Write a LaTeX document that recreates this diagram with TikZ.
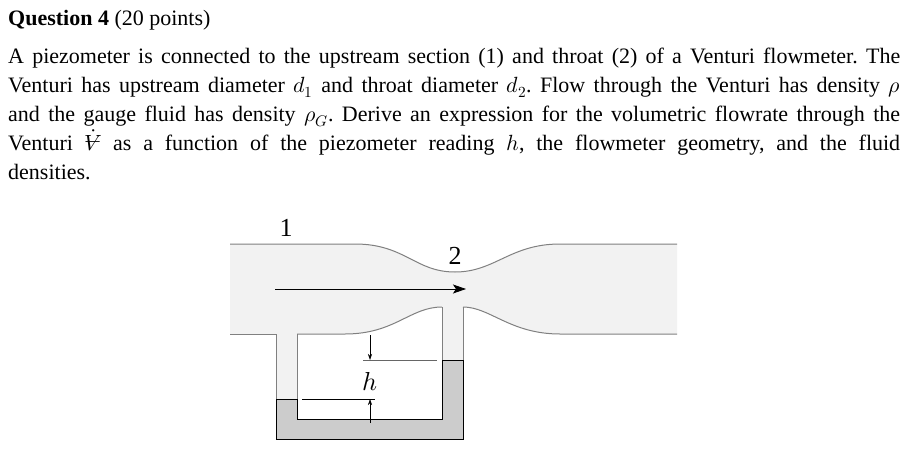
\documentclass[tikz,border=0pt]{standalone}
\usepackage{fontspec}
\setmainfont{Liberation Serif}
\usepackage{unicode-math}
\setmathfont{Latin Modern Math}
\usetikzlibrary{arrows.meta}
\begin{document}
\frenchspacing
\begin{tikzpicture}[x=1pt,y=-1pt,
  txt/.style={anchor=base west,inner sep=0pt,font=\fontsize{22}{26}\selectfont},
  pipeline/.style={draw=black!50,line width=1pt},
  tube/.style={draw=black,line width=1pt},
  lab/.style={inner sep=0pt,font=\fontsize{26}{30}\selectfont}]
\useasboundingbox (0,0) rectangle (918,450);
% text
\node[txt] (t0) at (8,25) {\textbf{Question 4} (20 points)};
\node[txt] (t1) at (8,63) {\makebox[892pt][s]{A piezometer is connected to the upstream section (1) and throat (2) of a Venturi flowmeter. The}};
\node[txt] (t2) at (8,92) {\makebox[892pt][s]{Venturi has upstream diameter $d_1$ and throat diameter $d_2$. Flow through the Venturi has density $\rho$}};
\node[txt] (t3) at (8,121) {\makebox[892pt][s]{and the gauge fluid has density $\rho_G$. Derive an expression for the volumetric flowrate through the}};
\node[txt] (t4) at (8,150) {\makebox[892pt][s]{Venturi \rlap{$\dot{V}$}\hbox to 0.75em{\hss\raisebox{0.25ex}{$-$}\hss} as a function of the piezometer reading $h$, the flowmeter geometry, and the fluid}};
\node[txt] (t5) at (8,179) {densities.};
% fills
\fill[black!5] (230,244) -- (355,244) .. controls (405,244) and (415,272) .. (455,272)
  .. controls (495,272) and (510,244) .. (560,244) -- (677,244) -- (677,334) -- (560,334)
  .. controls (510,334) and (490,307) .. (463,307) -- (463,360) -- (442,360) -- (442,307)
  .. controls (410,307) and (395,334) .. (345,334) -- (297,334) -- (297,399) -- (276,399) -- (276,334) -- (230,334) -- cycle;
\fill[black!20] (276,399) -- (297,399) -- (297,419) -- (442,419) -- (442,360) -- (463,360) -- (463,439) -- (276,439) -- cycle;
% outlines
\draw[pipeline] (230,244) -- (355,244) .. controls (405,244) and (415,272) .. (455,272)
  .. controls (495,272) and (510,244) .. (560,244) -- (677,244);
\draw[pipeline] (230,334) -- (276,334);
\draw[pipeline] (297,334) -- (345,334) .. controls (395,334) and (410,307) .. (442,307);
\draw[pipeline] (463,307) .. controls (490,307) and (510,334) .. (560,334) -- (677,334);
\draw[pipeline] (276,334) -- (276,399);
\draw[pipeline] (297,334) -- (297,399);
\draw[pipeline] (442,307) -- (442,360);
\draw[pipeline] (463,307) -- (463,360);
\draw[tube] (276,399) -- (297,399) -- (297,419) -- (442,419) -- (442,360) -- (463,360) -- (463,439) -- (276,439) -- cycle;
% h markers
\coordinate (hu) at (370,360);
\coordinate (hl) at (370,399);
\draw[black!60,line width=0.8pt] (363,360) -- (437,360);
\draw[black,line width=0.8pt] (302,399) -- (375,399);
\draw[-{Stealth[length=6pt,width=4pt]},line width=0.6pt] (370,335) -- (hu);
\draw[-{Stealth[length=6pt,width=4pt]},line width=0.6pt] (370,423) -- (hl);
\node[lab] (h) at (370,382) {$h$};
\node[lab] (n1) at (286,228) {1};
\node[lab] (n2) at (455,256) {2};
\coordinate (fa) at (275,289);
\coordinate (fb) at (466,289);
\draw[-{Stealth[length=13pt,width=9pt,inset=3pt]},line width=0.8pt] (fa) -- (fb);
\end{tikzpicture}
\end{document}
